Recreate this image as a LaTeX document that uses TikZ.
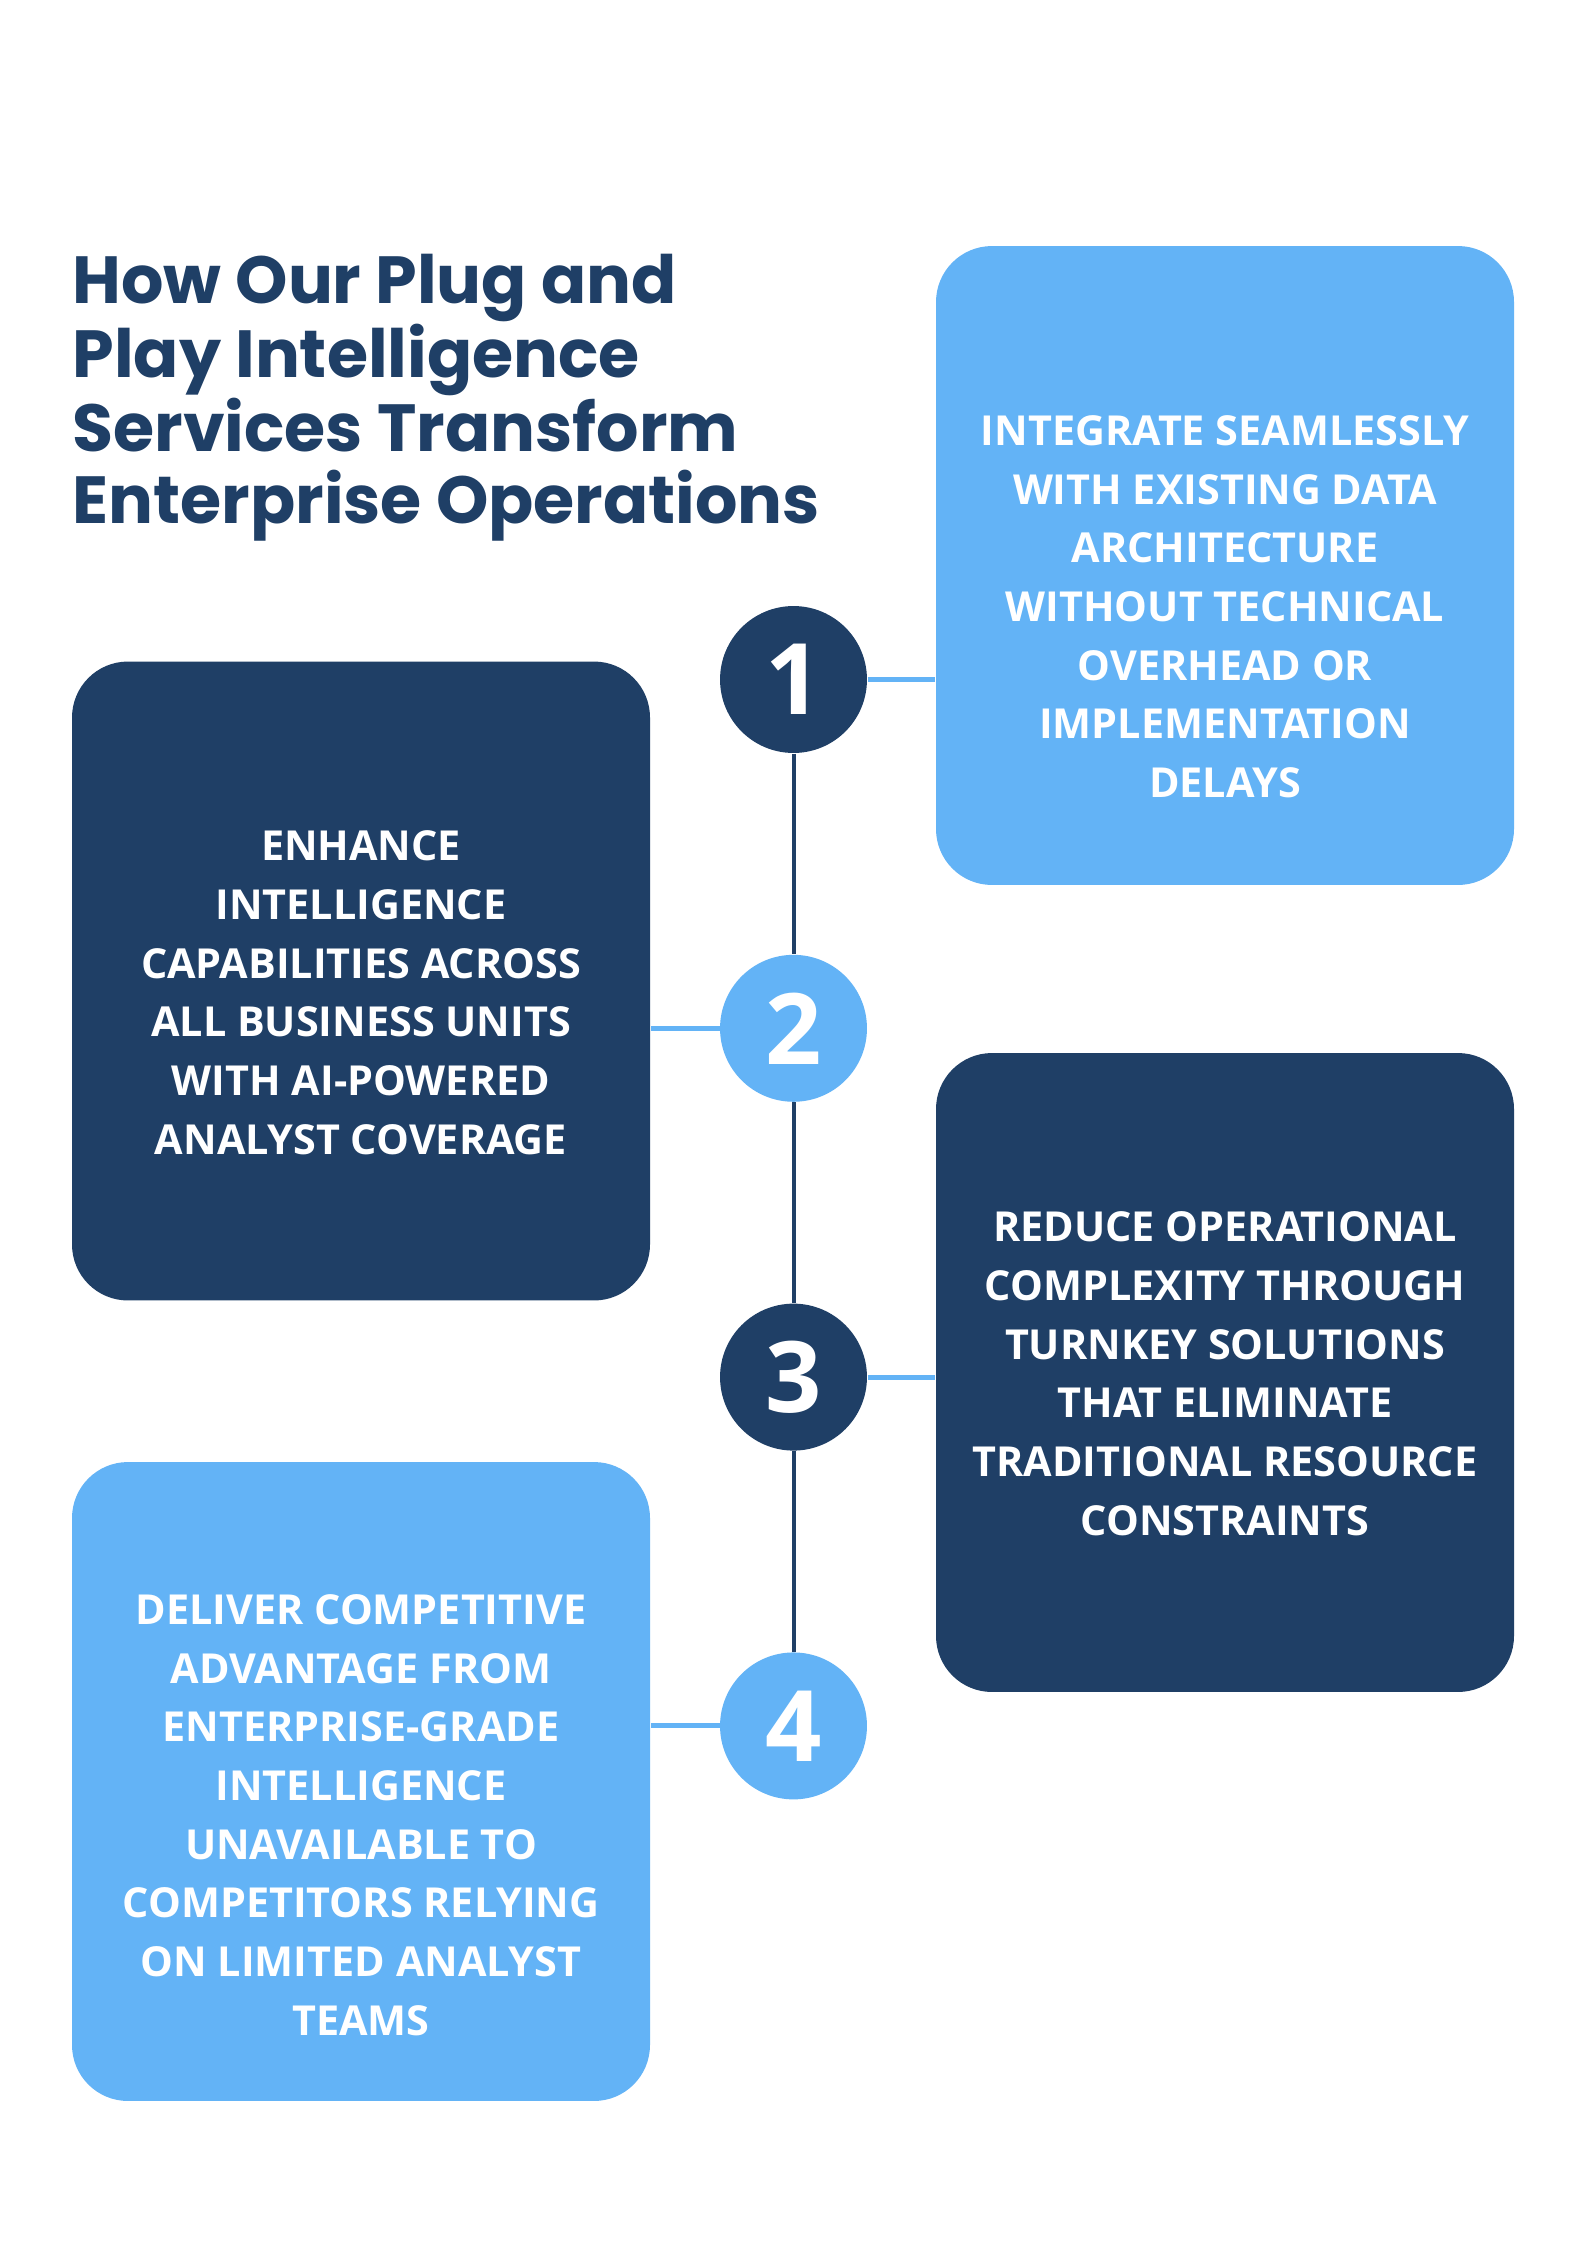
\documentclass[tikz,border=0pt]{standalone}
\usepackage{fontspec}
\setmainfont{Open Sans}
\newfontfamily\titlefont{Poppins}
\usepackage{tikz}
\usetikzlibrary{positioning, calc}
\definecolor{navy}{RGB}{31,63,102}
\definecolor{skyblue}{RGB}{99,179,246}

\begin{document}
\begin{tikzpicture}[
    x=0.375pt, y=-0.375pt,
    node distance=75.3pt and 26pt,
    card/.style={
        rectangle, rounded corners=21pt,
        minimum width=216.75pt, minimum height=239.6pt,
        inner sep=0pt
    },
    darkcard/.style={card, fill=navy},
    lightcard/.style={card, fill=skyblue},
    cardtext/.style={
        inner sep=0pt, align=center, text=white,
        font=\bfseries\fontsize{15.5}{22}\selectfont
    },
    num/.style={
        circle, minimum size=55.1pt, inner sep=0pt,
        text=white, font=\bfseries\fontsize{37}{37}\selectfont
    },
    spine/.style={line width=1.5pt, draw=navy},
    link/.style={line width=1.9pt, draw=skyblue},
]
\fill[white] (0,0) rectangle (1587,2245);
\useasboundingbox (0,0) rectangle (1587,2245);

% Title
\node[anchor=base west, inner sep=0pt, align=left, text=navy,
      font=\titlefont\bfseries\fontsize{25}{26.7}\selectfont] (title) at (72,523)
    {How Our Plug and\\Play Intelligence\\Services Transform\\Enterprise Operations};

% Numbered steps
\node[num, fill=navy] (step1) at (793.5,679.5) {1};
\node[num, fill=skyblue, below=of step1] (step2) {2};
\node[num, fill=navy, below=of step2] (step3) {3};
\node[num, fill=skyblue, below=of step3] (step4) {4};

% Cards
\node[lightcard] (card1) at (1225,565.5) {};
\node[darkcard] (card2) at (361,981) {};
\node[darkcard] (card3) at (1225,1372.5) {};
\node[lightcard] (card4) at (361,1781.5) {};

% Card texts
\node[cardtext] (text1) at (1225,606.6) {INTEGRATE SEAMLESSLY\\WITH EXISTING DATA\\ARCHITECTURE\\WITHOUT TECHNICAL\\OVERHEAD OR\\IMPLEMENTATION\\DELAYS};
\node[cardtext] (text2) at (361,992.6) {ENHANCE\\INTELLIGENCE\\CAPABILITIES ACROSS\\ALL BUSINESS UNITS\\WITH AI-POWERED\\ANALYST COVERAGE};
\node[cardtext] (text3) at (1225,1373.6) {REDUCE OPERATIONAL\\COMPLEXITY THROUGH\\TURNKEY SOLUTIONS\\THAT ELIMINATE\\TRADITIONAL RESOURCE\\CONSTRAINTS};
\node[cardtext] (text4) at (361,1815) {DELIVER COMPETITIVE\\ADVANTAGE FROM\\ENTERPRISE-GRADE\\INTELLIGENCE\\UNAVAILABLE TO\\COMPETITORS RELYING\\ON LIMITED ANALYST\\TEAMS};

% Vertical spine
\draw[spine] (step1) -- (step2) (step2) -- (step3) (step3) -- (step4);

% Links to cards
\draw[link] (step1) -- (step1 -| card1.west);
\draw[link] (step2) -- (step2 -| card2.east);
\draw[link] (step3) -- (step3 -| card3.west);
\draw[link] (step4) -- (step4 -| card4.east);

\end{tikzpicture}
\end{document}
